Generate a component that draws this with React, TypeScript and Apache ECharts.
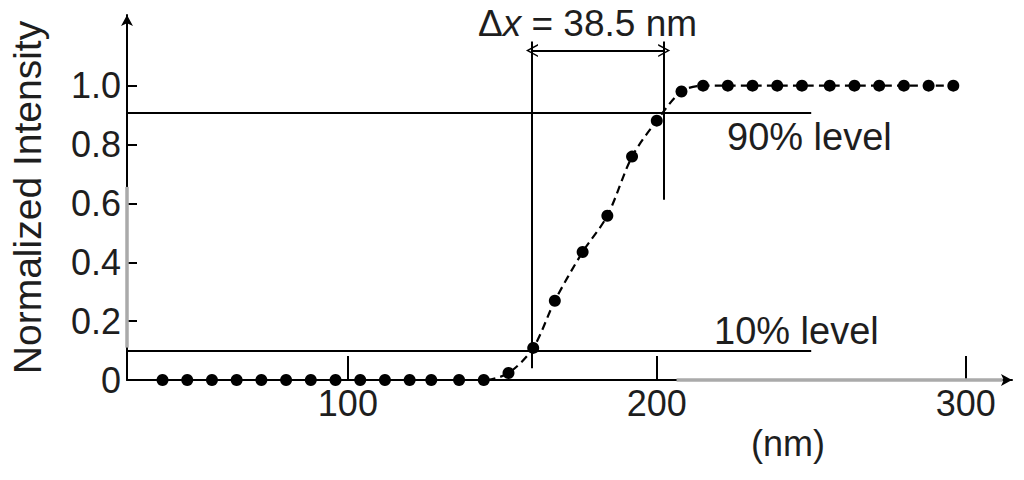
import React, { useEffect, useRef } from 'react';
import * as echarts from 'echarts';

// Data
const xValues = [40, 48, 56, 64, 72, 80, 88, 96, 104, 112, 120, 127, 136, 144, 152, 160, 167, 176, 184, 192, 200, 208, 215, 223, 231, 239, 247, 256, 264, 272, 280, 288, 296];
const yValues = [0, 0, 0, 0, 0, 0, 0, 0, 0, 0, 0, 0, 0, 0, 0.024, 0.109, 0.269, 0.435, 0.558, 0.759, 0.881, 0.98, 1.0, 1.0, 1.0, 1.0, 1.0, 1.0, 1.0, 1.0, 1.0, 1.0, 1.0];
const xTicks = [100, 200, 300];
const yTicks = [0, 0.2, 0.4, 0.6, 0.8, 1.0];
const level90 = 0.908;
const level10 = 0.099;
const levelEndX = 250;
const xAt10 = 159.6;
const xAt90 = 202.4;
const deltaText = 'Δx = 38.5 nm';
const xUnit = '(nm)';
const yName = 'Normalized Intensity';

const X_MIN = 28.5;
const X_MAX = 315;
const Y_MAX = 1.24;

const FONT = '"Liberation Sans", Arial, sans-serif';
const TXT = '#1e1e1e';

export default function App() {
  const ref = useRef<HTMLDivElement>(null);
  useEffect(() => {
    if (!ref.current) return;
    const chart = echarts.init(ref.current, undefined, { renderer: 'svg' });
    const seriesData = xValues.map((x, i) => [x, yValues[i]]);
    const solid = { color: '#000', width: 2, type: 'solid' as const };
    const chevron = 'path://M0,12 L6,0 L12,12 L10.5,12 L6,3 L1.5,12 Z';
    chart.setOption({
      animation: false,
      grid: { left: 123, right: 12, top: 15, bottom: 100, containLabel: false },
      xAxis: {
        type: 'value',
        min: X_MIN,
        max: X_MAX,
        splitLine: { show: false },
        axisLine: {
          show: true,
          symbol: ['none', 'arrow'],
          symbolSize: [9, 11],
          lineStyle: { color: '#000', width: 2 },
        },
        axisTick: {
          show: true,
          inside: true,
          length: 24,
          customValues: xTicks,
          lineStyle: { color: '#000', width: 2 },
        },
        axisLabel: {
          customValues: xTicks,
          fontSize: 36,
          fontFamily: FONT,
          color: TXT,
          margin: 5,
        },
      },
      yAxis: {
        type: 'value',
        min: 0,
        max: Y_MAX,
        splitLine: { show: false },
        name: yName,
        nameLocation: 'middle',
        nameGap: 80,
        nameTextStyle: { fontSize: 39, fontFamily: FONT, color: TXT },
        axisLine: {
          show: true,
          symbol: ['none', 'arrow'],
          symbolSize: [9, 11],
          lineStyle: { color: '#000', width: 2 },
        },
        axisTick: {
          show: true,
          inside: true,
          length: 10,
          customValues: yTicks,
          lineStyle: { color: '#000', width: 2 },
        },
        axisLabel: {
          customValues: yTicks,
          fontSize: 36,
          fontFamily: FONT,
          color: TXT,
          margin: 6,
          formatter: (v: number) => (v === 0 ? '0' : v.toFixed(1)),
        },
      },
      series: [
        {
          type: 'line',
          data: seriesData,
          smooth: 0.3,
          symbol: 'circle',
          symbolSize: 12,
          itemStyle: { color: '#000' },
          lineStyle: { color: '#000', width: 2.2, type: [8, 5] },
          z: 5,
          markLine: {
            silent: true,
            animation: false,
            symbol: 'none',
            label: { show: false },
            lineStyle: solid,
            data: [
              [{ coord: [X_MIN, level90] }, { coord: [levelEndX, level90] }],
              [{ coord: [X_MIN, level10] }, { coord: [levelEndX, level10] }],
              [{ coord: [xAt10, 0.04] }, { coord: [xAt10, 1.15] }],
              [{ coord: [xAt90, 0.612] }, { coord: [xAt90, 1.15] }],
              [
                { coord: [xAt10, 1.119], symbol: chevron, symbolSize: [13, 12] },
                { coord: [xAt90, 1.119], symbol: chevron, symbolSize: [13, 12] },
              ],
              [
                { coord: [206.4, 0], lineStyle: { color: '#aaa', width: 3.5 } },
                { coord: [312, 0] },
              ],
              [
                { coord: [X_MIN, 0.11], lineStyle: { color: '#aaa', width: 3.5 } },
                { coord: [X_MIN, 0.656] },
              ],
            ],
          },
        },
      ],
      graphic: [
        {
          type: 'text',
          left: 478,
          top: 5,
          style: {
            text: '{a|Δ}{i|x}{a|' + deltaText.slice(2) + '}',
            rich: {
              a: { fontSize: 37, fontFamily: FONT, fill: TXT },
              i: { fontSize: 37, fontFamily: FONT, fontStyle: 'italic', fill: TXT },
            },
          },
        },
        {
          type: 'text',
          x: 727,
          y: 137,
          style: { text: '90% level', fontSize: 38, fontFamily: FONT, fill: TXT, verticalAlign: 'middle' },
        },
        {
          type: 'text',
          x: 714,
          y: 331,
          style: { text: '10% level', fontSize: 38, fontFamily: FONT, fill: TXT, verticalAlign: 'middle' },
        },
        {
          type: 'text',
          x: 788,
          y: 443,
          style: { text: xUnit, fontSize: 36, fontFamily: FONT, fill: TXT, align: 'center', verticalAlign: 'middle' },
        },
      ],
    });
    return () => chart.dispose();
  }, []);
  return <div ref={ref} style={{ position: 'absolute', left: 0, top: 0, width: 1024, height: 480 }} />;
}
